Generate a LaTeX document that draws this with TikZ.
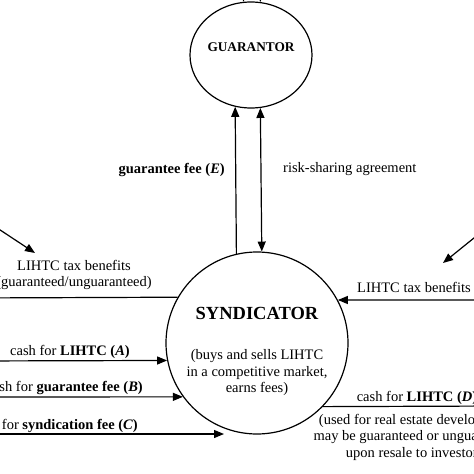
\documentclass[tikz,border=0pt]{standalone}
\usepackage{fontspec}
\setmainfont{Liberation Serif}
\usetikzlibrary{shapes.geometric,arrows.meta}

\begin{document}
\begin{tikzpicture}[x=1pt,y=-1pt,
    flow/.style={line width=1.2pt,-{Triangle[length=10pt,width=8pt]}},
    twoway/.style={line width=1.2pt,{Triangle[length=10pt,width=8pt]}-{Triangle[length=10pt,width=8pt]}},
    txt/.style={font=\fontsize{14.5}{16.5}\selectfont, inner sep=0pt, align=center}]
    \useasboundingbox (0,0) rectangle (474,474);
    \clip (0,0) rectangle (474,474);

    % Guarantor
    \node[ellipse, draw, line width=1.2pt, minimum width=122pt, minimum height=106pt, inner sep=0pt] (guar) at (251,55) {};
    \node[font=\fontsize{13.3}{15}\selectfont\bfseries] (guarlbl) at (251,47) {GUARANTOR};

    % Syndicator
    \node[circle, draw, line width=1.2pt, minimum size=182pt, inner sep=0pt] (synd) at (257,343) {};
    \node[font=\fontsize{18.5}{20}\selectfont\bfseries] (syndlbl) at (257,313) {SYNDICATOR};
    \node[txt] (syndnote) at (257,373) {(buys and sells LIHTC\\in a competitive market,\\earns fees)};

    % Loose ends outside the picture
    \coordinate (gtopA) at (243,-40);
    \coordinate (gtopB) at (260,-40);
    \coordinate (tlstart) at (-15,220);
    \coordinate (tlend) at (35,253);
    \coordinate (trstart) at (495,221);
    \coordinate (trend) at (443,263);
    \coordinate (taxout) at (-30,298);
    \coordinate (cashA) at (-30,361);
    \coordinate (cashB) at (-30,397);
    \coordinate (cashC) at (-30,434);
    \coordinate (cashCend) at (224,434);
    \coordinate (taxin) at (500,300);
    \coordinate (cashDout) at (500,406);

    % Guarantor links
    \draw[flow] (gtopA) -- (guar.98.7);
    \draw[flow] (gtopB) -- (guar.80.3);
    \draw[flow] (synd.103.3) -- (guar.253.7);
    \draw[twoway] (synd.87.5) -- (guar.280.8);
    \node[txt, anchor=east] (feeE) at (225,170) {\textbf{guarantee fee (\textit{E})}};
    \node[txt, anchor=west] (risk) at (283,169) {risk-sharing agreement};

    % Left side
    \draw[flow] (tlstart) -- (tlend);
    \node[txt] (taxL) at (74,275) {LIHTC tax benefits\\(guaranteed/unguaranteed)};
    \draw[flow] (synd.150.4) -- (taxout);
    \node[txt, anchor=east] (lblA) at (130,352) {cash for \textbf{LIHTC (\textit{A})}};
    \draw[flow] (cashA) -- (synd.191.4);
    \node[txt, anchor=east] (lblB) at (143,388) {cash for \textbf{guarantee fee (\textit{B})}};
    \draw[flow] (cashB) -- (synd.216.4);
    \node[txt, anchor=east] (lblC) at (138,426) {cash for \textbf{syndication fee (\textit{C})}};
    \draw[flow] (cashC) -- (cashCend);

    % Right side
    \draw[flow] (trstart) -- (trend);
    \node[txt, anchor=west] (taxR) at (357,287) {LIHTC tax benefits};
    \draw[flow] (taxin) -- (synd.28.2);
    \draw[flow] (synd.316.2) -- (cashDout);
    \node[txt] (lblD) at (417,398) {cash for \textbf{LIHTC (\textit{D})}};
    \node[txt] (useD) at (417,437) {(used for real estate development,\\may be guaranteed or unguaranteed\\upon resale to investors)};
\end{tikzpicture}
\end{document}
